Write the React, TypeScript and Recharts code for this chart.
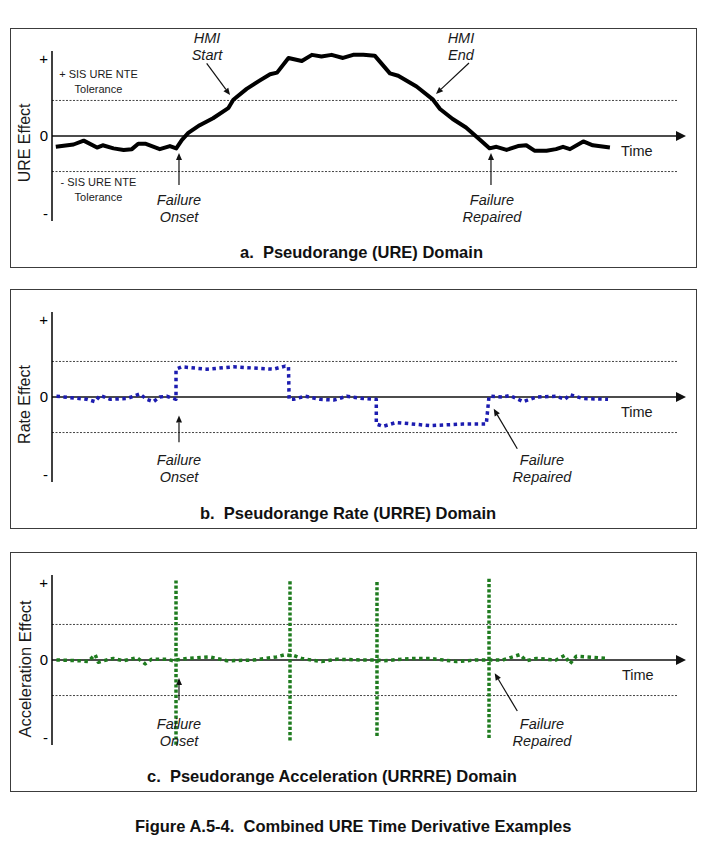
import React from 'react';
import { ComposedChart, Line, XAxis, YAxis, ReferenceLine, ReferenceDot } from 'recharts';

const FONT = 'Arial, "Liberation Sans", Helvetica, sans-serif';

// time runs 0..100 along the axis (arrow tip = 100); effect in units where +/-1 = the "+" / "-" ticks
const tickValues = [-1, 0, 1];
const tickText: Record<string, string> = { '-1': '-', '0': '0', '1': '+' };
const tolerance = 0.46;
const tolEnd = 98.7;
const axisTip = 100;

// a. pseudorange (URE)
const ureTime = [0.6, 3.4, 5.0, 7.1, 8.0, 9.7, 11.3, 12.6, 13.6, 14.7, 17.0, 18.6, 19.6, 20.5, 21.5, 23.3, 25.4, 27.8, 28.6, 30.7, 32.8, 34.4, 35.5, 37.3, 39.4, 41.0, 42.5, 44.1, 45.9, 47.5, 49.1, 50.9, 53.3, 54.6, 57.5, 60.1, 61.2, 63.2, 65.3, 67.5, 69.0, 70.1, 71.7, 73.5, 74.8, 76.1, 78.0, 79.5, 80.6, 81.7, 83.8, 85.3, 88.0];
const ureEffect = [-0.14, -0.11, -0.06, -0.15, -0.12, -0.16, -0.18, -0.17, -0.10, -0.10, -0.17, -0.13, -0.16, -0.05, 0.04, 0.14, 0.23, 0.36, 0.47, 0.61, 0.72, 0.80, 0.82, 1.01, 0.97, 1.05, 1.03, 1.05, 1.01, 1.05, 1.05, 1.04, 0.81, 0.78, 0.64, 0.47, 0.35, 0.22, 0.11, -0.05, -0.16, -0.14, -0.18, -0.13, -0.12, -0.19, -0.19, -0.17, -0.14, -0.17, -0.07, -0.12, -0.15];

// b. pseudorange rate (URRE)
const rateTime = [0.7, 5.5, 6.8, 7.6, 9.2, 11.8, 13.9, 14.9, 16.0, 17.0, 18.1, 19.56, 19.56, 20.5, 24.4, 28.6, 32.8, 34.9, 36.8, 37.3, 37.4, 38.1, 39.9, 42.3, 44.4, 46.5, 49.1, 51.15, 51.15, 52.2, 54.3, 59.6, 64.8, 68.5, 68.93, 71.1, 72.2, 74.3, 76.4, 79.5, 80.9, 81.7, 83.8, 87.7];
const rateEffect = [0.01, -0.03, -0.06, 0.02, -0.03, -0.02, 0.04, -0.03, -0.06, 0, 0.01, -0.03, 0.36, 0.39, 0.36, 0.39, 0.37, 0.36, 0.40, 0.39, -0.03, -0.03, 0.01, -0.03, -0.04, 0.01, -0.02, -0.03, -0.35, -0.38, -0.33, -0.37, -0.35, -0.35, 0.01, 0, 0.02, -0.06, 0, 0.01, -0.03, 0.03, -0.02, -0.03];

// c. pseudorange acceleration (URRRE): baseline plus impulses at the rate steps
const accelTime = [0.7, 4.4, 5.7, 6.8, 7.3, 8.1, 9.7, 11.3, 13.4, 14.7, 15.7, 18.1, 19.1, 19.56, 21.3, 24.9, 27.6, 31.8, 35.4, 36.8, 37.54, 38.1, 39.4, 42.5, 44.9, 48.9, 51.26, 52.2, 56.9, 59.6, 63.8, 66.9, 68.93, 71.1, 73.8, 74.8, 76.4, 79.5, 80.9, 81.7, 82.7, 87.7];
const accelEffect = [0, -0.01, -0.02, 0.07, -0.03, -0.01, 0.02, -0.01, 0.03, -0.05, 0.01, 0.01, -0.01, 0, 0.02, 0.04, -0.01, 0, 0.04, 0.07, 0.06, 0.06, 0.02, -0.02, 0.01, 0, 0, -0.01, 0.02, 0.02, -0.02, 0, 0, 0, 0.07, -0.01, 0.02, 0, 0.06, -0.05, 0.05, 0.02];
const spikeTime = [19.56, 37.54, 51.26, 68.93];
const spikeTop = [1.03, 1.02, 1.01, 1.05];
const spikeBottom = [-1.1, -1.05, -0.99, -1.01];

type Note = { t: number; v: number; lines: string[]; size?: number; italic?: boolean; anchor?: 'start' | 'middle' | 'end'; rotate?: boolean; lh?: number };
type Arrow = { from: [number, number]; to: [number, number] };

const ureNotes: Note[] = [
  { t: 24.45, v: 1.268, lines: ['HMI', 'Start'], italic: true },
  { t: 64.5, v: 1.268, lines: ['HMI', 'End'], italic: true },
  { t: 20.03, v: -0.828, lines: ['Failure', 'Onset'], italic: true },
  { t: 69.4, v: -0.828, lines: ['Failure', 'Repaired'], italic: true },
  { t: 7.33, v: 0.8, lines: ['+ SIS URE NTE', 'Tolerance'], size: 11, lh: 15 },
  { t: 7.33, v: -0.595, lines: ['- SIS URE NTE', 'Tolerance'], size: 11, lh: 15 },
  { t: 89.75, v: -0.194, lines: ['Time'], anchor: 'start' },
  { t: -4.26, v: -0.09, lines: ['URE Effect'], size: 16, rotate: true },
];
const ureArrows: Arrow[] = [
  { from: [24.4, 0.94], to: [28.08, 0.53] },
  { from: [65.77, 0.945], to: [60.57, 0.544] },
  { from: [20.03, -0.634], to: [20.03, -0.22] },
  { from: [69.24, -0.634], to: [69.24, -0.22] },
];

const rateNotes: Note[] = [
  { t: 20.03, v: -0.82, lines: ['Failure', 'Onset'], italic: true },
  { t: 77.29, v: -0.82, lines: ['Failure', 'Repaired'], italic: true },
  { t: 89.75, v: -0.197, lines: ['Time'], anchor: 'start' },
  { t: -4.26, v: -0.097, lines: ['Rate Effect'], size: 16, rotate: true },
];
const rateArrows: Arrow[] = [
  { from: [20.03, -0.585], to: [20.03, -0.24] },
  { from: [73.39, -0.67], to: [69.67, -0.153] },
];

const accelNotes: Note[] = [
  { t: 20.03, v: -0.832, lines: ['Failure', 'Onset'], italic: true },
  { t: 77.29, v: -0.832, lines: ['Failure', 'Repaired'], italic: true },
  { t: 89.9, v: -0.194, lines: ['Time'], anchor: 'start' },
  { t: -4.26, v: -0.116, lines: ['Acceleration Effect'], size: 16.5, rotate: true },
];
const accelArrows: Arrow[] = [
  { from: [20.03, -0.52], to: [20.03, -0.233] },
  { from: [73.39, -0.66], to: [69.83, -0.172] },
];

const zip = (ts: number[], vs: number[]) => ts.map((t, i) => ({ t, v: vs[i] }));

// each impulse is its own little segment; the null breaks the line between them
const spikeData = spikeTime.flatMap((t, i) => [
  { t, v: spikeTop[i] as number | null },
  { t, v: spikeBottom[i] as number | null },
  { t: t + 0.01, v: null },
]);

const arrowShape = (head: number, half: number, sw: number) => (p: any) => {
  const { x1, y1, x2, y2 } = p;
  const a = Math.atan2(y2 - y1, x2 - x1);
  const bx = x2 - head * Math.cos(a);
  const by = y2 - head * Math.sin(a);
  const nx = -Math.sin(a) * half;
  const ny = Math.cos(a) * half;
  return (
    <g>
      <line x1={x1} y1={y1} x2={bx} y2={by} stroke="#111" strokeWidth={sw} />
      <polygon points={`${x2},${y2} ${bx + nx},${by + ny} ${bx - nx},${by - ny}`} fill="#111" />
    </g>
  );
};

const noteShape = (n: Note) => (p: any) => {
  const size = n.size ?? 14.5;
  const lh = n.lh ?? 17;
  return (
    <g transform={n.rotate ? `rotate(-90 ${p.cx} ${p.cy})` : undefined}>
      {n.lines.map((s, i) => (
        <text
          key={i}
          x={p.cx}
          y={p.cy + i * lh}
          textAnchor={n.anchor ?? 'middle'}
          dominantBaseline="central"
          fontSize={size}
          fontStyle={n.italic ? 'italic' : 'normal'}
          fontFamily={FONT}
          fill="#1a1a1a"
        >
          {s}
        </text>
      ))}
    </g>
  );
};

type PanelProps = {
  top: number;
  data: { t: number; v: number }[];
  spikes?: { t: number; v: number | null }[];
  color: string;
  strokeWidth: number;
  dash?: string;
  notes: Note[];
  arrows: Arrow[];
  title: string;
  titleLeft: number;
};

function Panel({ top, data, spikes, color, strokeWidth, dash, notes, arrows, title, titleLeft }: PanelProps) {
  return (
    <>
      <div
        style={{
          position: 'absolute',
          left: 10,
          top,
          width: 687,
          height: 240,
          border: '1.5px solid #3c3c3c',
          boxSizing: 'border-box',
        }}
      />
      <div style={{ position: 'absolute', left: 0, top }}>
        <ComposedChart width={726} height={240} data={data} margin={{ top: 23, right: 40, bottom: 47, left: 22 }}>
          <XAxis type="number" dataKey="t" domain={[0, 100]} hide />
          <YAxis
            type="number"
            domain={[-1.1, 1.1]}
            ticks={tickValues}
            tickFormatter={(v: number) => tickText[String(v)]}
            axisLine={{ stroke: '#000', strokeWidth: 1.5 }}
            tickLine={false}
            tickSize={2}
            tickMargin={2}
            width={30}
            tick={{ fontSize: 15, fill: '#000', fontFamily: FONT }}
          />
          <ReferenceLine
            segment={[{ x: 0, y: tolerance }, { x: tolEnd, y: tolerance }]}
            stroke="#444"
            strokeWidth={1}
            strokeDasharray="2 1.5"
            ifOverflow="visible"
          />
          <ReferenceLine
            segment={[{ x: 0, y: -tolerance }, { x: tolEnd, y: -tolerance }]}
            stroke="#444"
            strokeWidth={1}
            strokeDasharray="2 1.5"
            ifOverflow="visible"
          />
          <ReferenceLine
            segment={[{ x: 0, y: 0 }, { x: axisTip, y: 0 }]}
            ifOverflow="visible"
            shape={arrowShape(10, 5, 1.5)}
          />
          {arrows.map((a, i) => (
            <ReferenceLine
              key={'a' + i}
              segment={[{ x: a.from[0], y: a.from[1] }, { x: a.to[0], y: a.to[1] }]}
              ifOverflow="visible"
              shape={arrowShape(7, 3, 1.2)}
            />
          ))}
          {notes.map((n, i) => (
            <ReferenceDot key={'n' + i} x={n.t} y={n.v} r={0} ifOverflow="visible" shape={noteShape(n)} />
          ))}
          <Line
            type="linear"
            dataKey="v"
            stroke={color}
            strokeWidth={strokeWidth}
            strokeDasharray={dash}
            strokeLinejoin="round"
            dot={false}
            activeDot={false}
            isAnimationActive={false}
          />
          {spikes && (
            <Line
              type="linear"
              data={spikes}
              dataKey="v"
              stroke={color}
              strokeWidth={strokeWidth}
              strokeDasharray="3.2 2"
              connectNulls={false}
              dot={false}
              activeDot={false}
              isAnimationActive={false}
            />
          )}
        </ComposedChart>
      </div>
      <div
        style={{
          position: 'absolute',
          left: titleLeft,
          top: top + 214,
          fontSize: 16.5,
          fontWeight: 700,
          lineHeight: '20px',
          whiteSpace: 'pre',
          color: '#111',
        }}
      >
        {title}
      </div>
    </>
  );
}

export default function App() {
  return (
    <div
      style={{
        position: 'absolute',
        left: 0,
        top: 0,
        width: 726,
        height: 857,
        background: '#fff',
        fontFamily: FONT,
      }}
    >
      <Panel
        top={28}
        data={zip(ureTime, ureEffect)}
        color="#000"
        strokeWidth={4}
        notes={ureNotes}
        arrows={ureArrows}
        title="a.  Pseudorange (URE) Domain"
        titleLeft={240}
      />
      <Panel
        top={289}
        data={zip(rateTime, rateEffect)}
        color="#1c1cb0"
        strokeWidth={3.5}
        dash="3.5 3.5"
        notes={rateNotes}
        arrows={rateArrows}
        title="b.  Pseudorange Rate (URRE) Domain"
        titleLeft={200}
      />
      <Panel
        top={552}
        data={zip(accelTime, accelEffect)}
        spikes={spikeData}
        color="#1e7b1e"
        strokeWidth={3.5}
        dash="3.5 3.5"
        notes={accelNotes}
        arrows={accelArrows}
        title="c.  Pseudorange Acceleration (URRRE) Domain"
        titleLeft={147}
      />
      <div
        style={{
          position: 'absolute',
          left: 135,
          top: 816,
          fontSize: 16.5,
          fontWeight: 700,
          lineHeight: '20px',
          whiteSpace: 'pre',
          color: '#111',
        }}
      >
        Figure A.5-4.  Combined URE Time Derivative Examples
      </div>
    </div>
  );
}
